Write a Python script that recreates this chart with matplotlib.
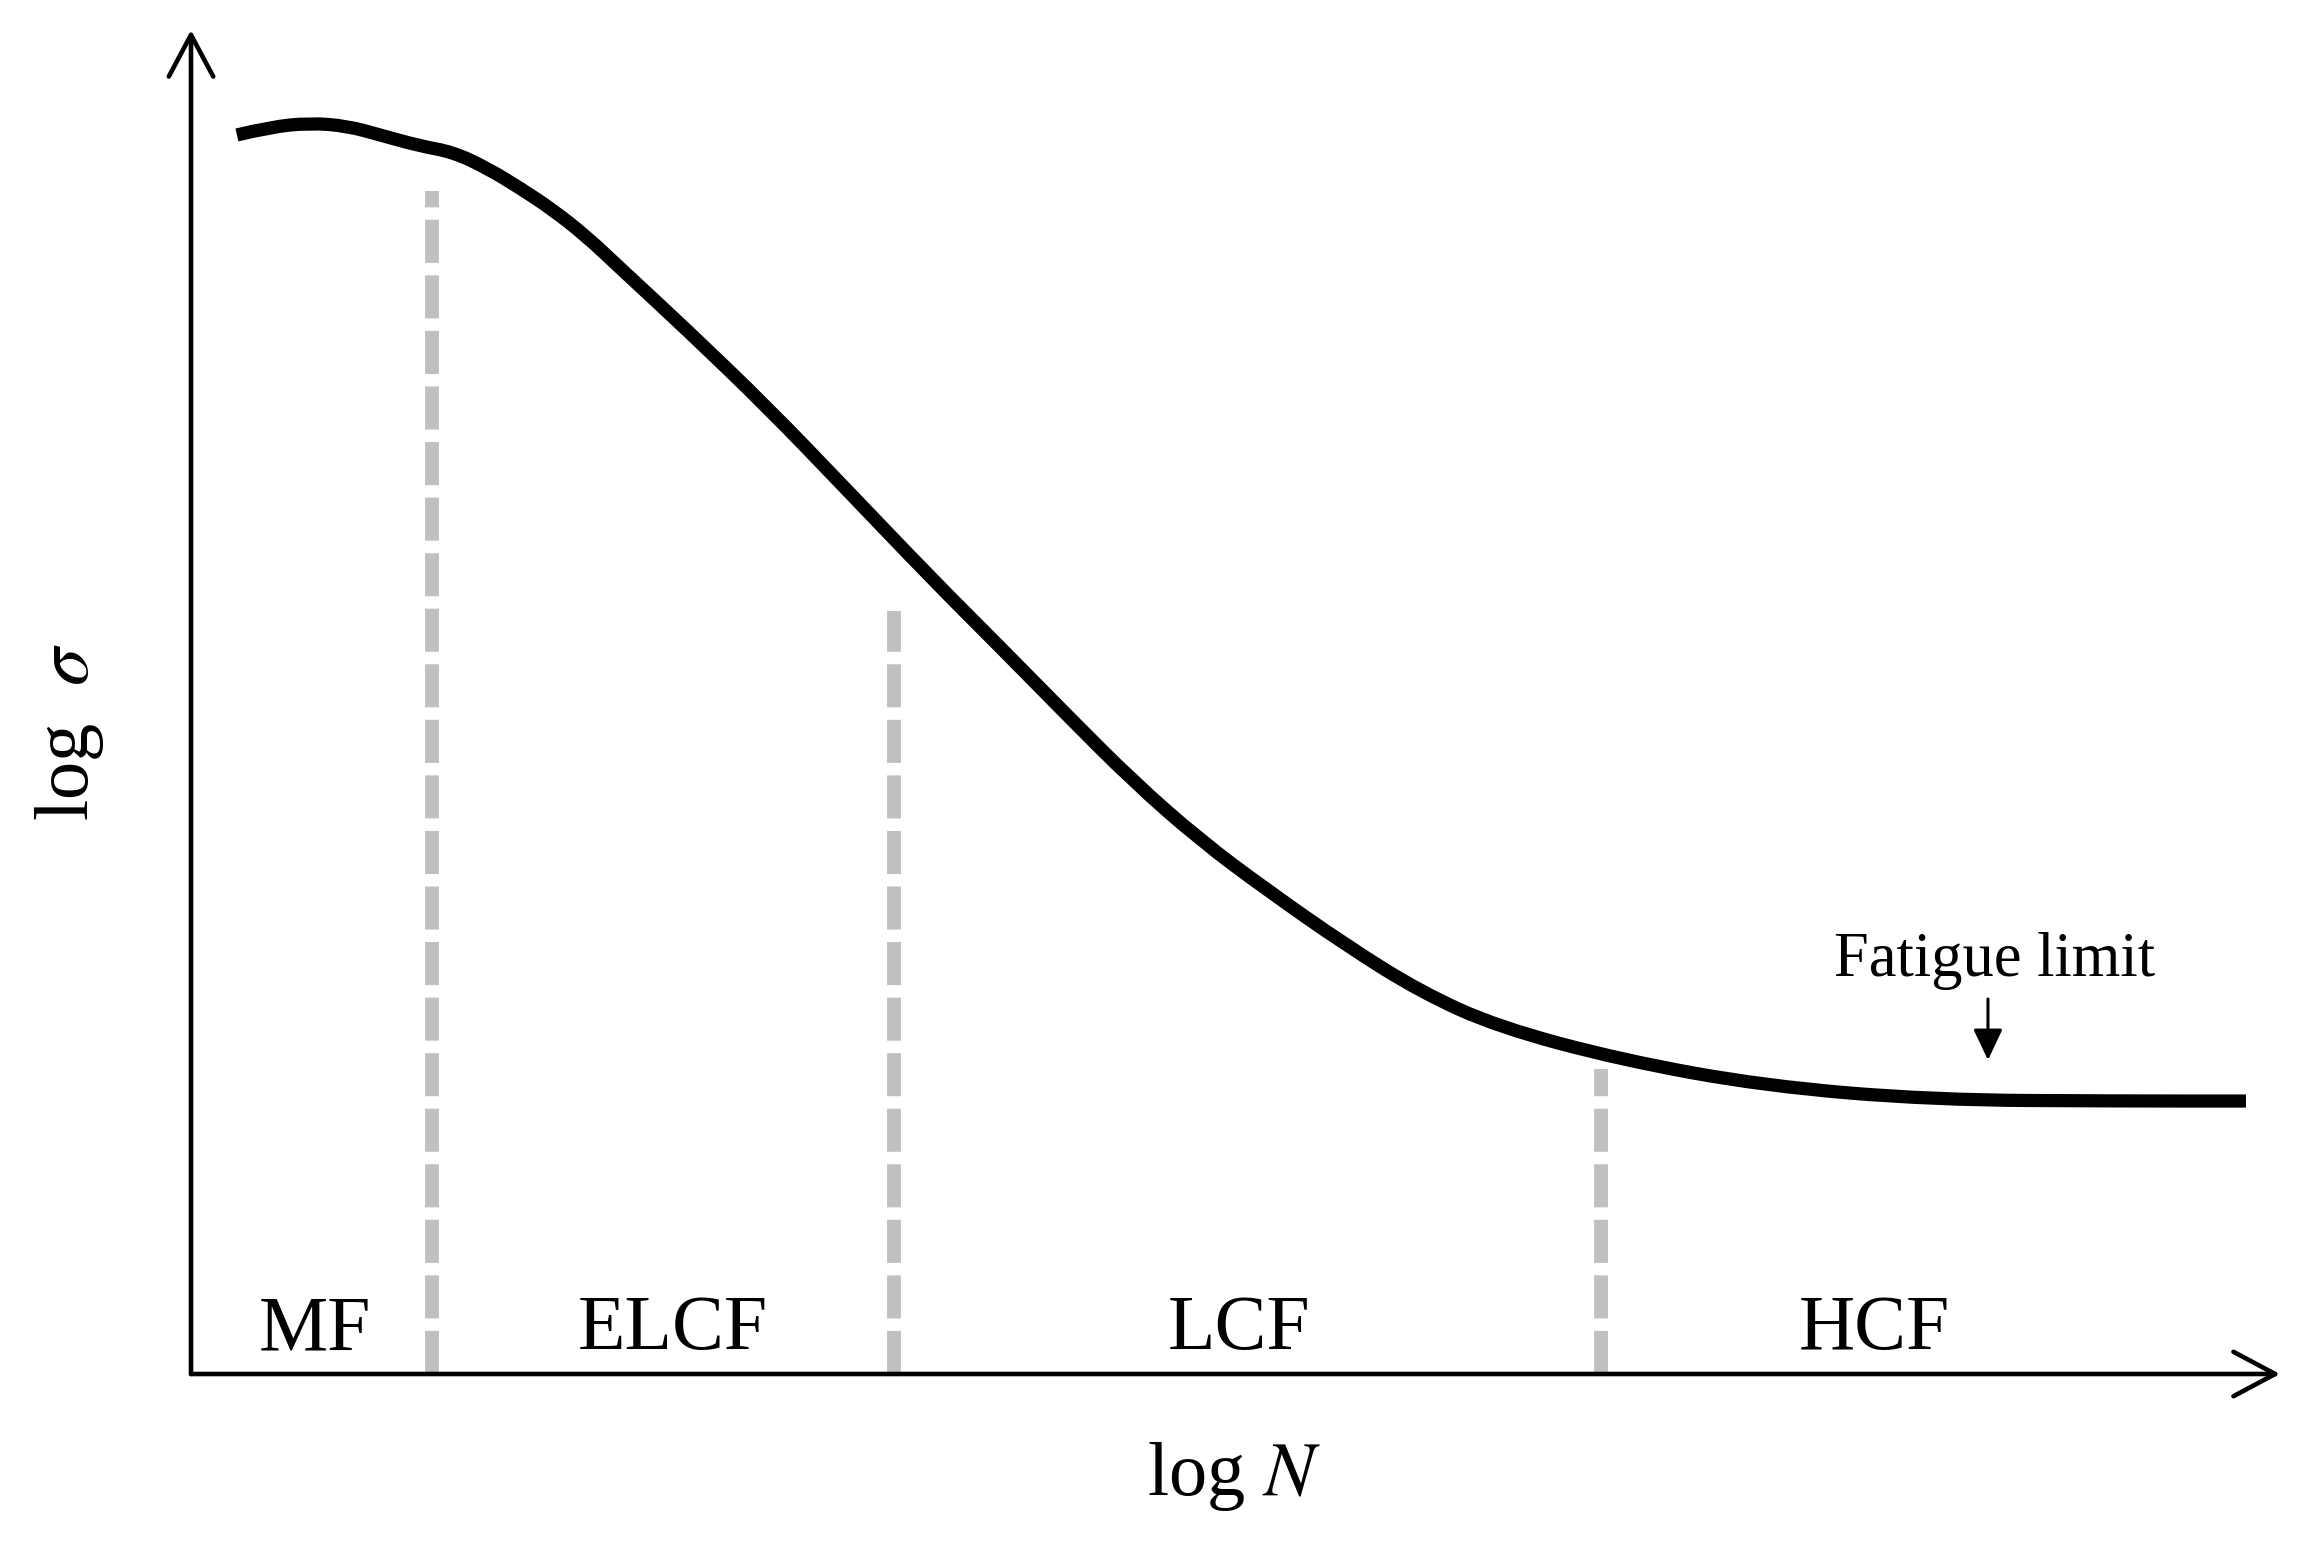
import numpy as np
import matplotlib
matplotlib.use("Agg")
import matplotlib.pyplot as plt
from matplotlib.patches import ArrowStyle, PathPatch
from matplotlib.path import Path

plt.rcParams['font.family'] = ['Liberation Serif', 'DejaVu Serif']
plt.rcParams['mathtext.fontset'] = 'stix'

# S-N curve (axis units: origin at the arrow axes, tips at 10)
log_n = [0.220, 0.378, 0.570, 0.747, 0.905, 1.096, 1.254, 1.417, 1.575, 1.733,
         1.896, 2.054, 2.374, 2.762, 3.126, 3.552, 3.873, 4.193, 4.509, 4.830,
         5.151, 5.534, 5.888, 6.257, 6.850, 7.535, 8.339, 9.253, 9.837]
log_s = [9.219, 9.278, 9.308, 9.286, 9.219, 9.137, 9.092, 8.973, 8.824, 8.661,
         8.460, 8.229, 7.768, 7.188, 6.600, 5.908, 5.409, 4.903, 4.412, 3.973,
         3.601, 3.185, 2.842, 2.582, 2.336, 2.143, 2.039, 2.031, 2.031]

# regime boundaries (x) and how high each dashed line reaches
bound_x = [1.154, 3.365, 6.750]
bound_top = [8.802, 5.677, 2.269]

regions = ["MF", "ELCF", "LCF", "HCF"]
region_x = [0.594, 2.307, 5.017, 8.057]

fig = plt.figure(figsize=(23.15, 15.41), dpi=100)
ax = fig.add_axes([191 / 2315, 167 / 1541, 2089 / 2315, 1344 / 1541])
ax.set_xlim(0, 10)
ax.set_ylim(0, 10)
ax.axis('off')

# axes with open arrow heads
axis_style = ArrowStyle('->', head_length=30, head_width=16)
for end in [(10, 0), (0, 10)]:
    ax.annotate("", xy=end, xytext=(0, 0),
                arrowprops=dict(arrowstyle=axis_style, mutation_scale=1,
                                lw=3.3, color='black', shrinkA=0, shrinkB=0),
                annotation_clip=False)

# dashed regime boundaries
for bx, top in zip(bound_x, bound_top):
    ax.plot([bx, bx], [0, top], color='#c0c0c0', lw=10,
            linestyle=(0, (3.1, 0.9)), dash_capstyle='butt', clip_on=False)

# smooth curve: read points used as quadratic bezier controls
pts = np.column_stack([log_n, log_s])
verts = [pts[0]]
codes = [Path.MOVETO]
for i in range(1, len(pts) - 1):
    verts += [pts[i], (pts[i] + pts[i + 1]) / 2]
    codes += [Path.CURVE3, Path.CURVE3]
verts.append(pts[-1])
codes.append(Path.LINETO)
ax.add_patch(PathPatch(Path(verts, codes), fill=False, edgecolor='black', lw=9.5,
                       capstyle='butt', joinstyle='round', clip_on=False))

for name, rx in zip(regions, region_x):
    ax.text(rx, 0.186, name, fontsize=56, ha='center', va='baseline')

# fatigue limit note
ax.text(8.636, 2.961, "Fatigue limit", fontsize=45, ha='center', va='baseline')
ax.annotate("", xy=(8.602, 2.336), xytext=(8.602, 2.790),
            arrowprops=dict(arrowstyle=ArrowStyle('-|>', head_length=19, head_width=9),
                            mutation_scale=1, lw=2.2, color='black',
                            shrinkA=0, shrinkB=0))

ax.text(4.993, -0.900, r"log $N$", fontsize=55, ha='center', va='baseline', clip_on=False)
ax.text(-0.493, 4.777, r"log  $\sigma$", fontsize=55, ha='center', va='baseline',
        rotation=90, rotation_mode='anchor', clip_on=False)

fig.savefig("out.png", dpi=100)
